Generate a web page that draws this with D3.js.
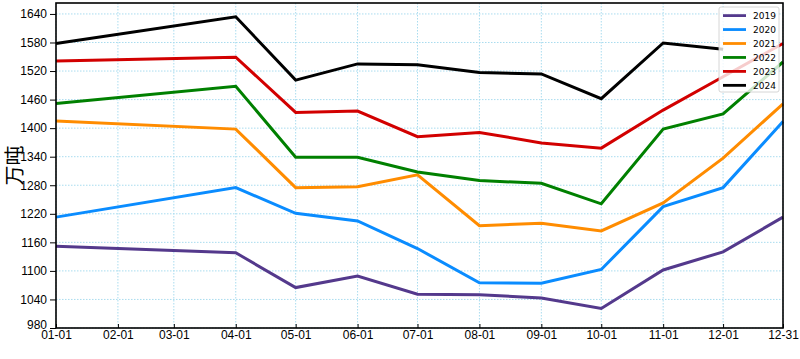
<!DOCTYPE html>
<html><head><meta charset="utf-8">
<script src="https://cdn.jsdelivr.net/npm/d3@7"></script>
<style>body{margin:0;background:#fff}svg{display:block}</style>
</head><body>
<script>
const dates = ["01-01","04-01","05-01","06-01","07-01","08-01","09-01","10-01","11-01","12-01","12-31"];
const years = ["2019","2020","2021","2022","2023","2024"];
const s2019 = [1152,1138,1065,1089,1051,1050,1043,1021,1102,1140,1213];
const s2020 = [1213,1275,1221,1205,1147,1075,1074,1103,1235,1275,1414];
const s2021 = [1415,1398,1275,1277,1302,1195,1200,1184,1243,1337,1451];
const s2022 = [1452,1488,1339,1339,1308,1290,1284,1241,1398,1430,1539];
const s2023 = [1541,1549,1433,1436,1382,1391,1369,1358,1438,1508,1578];
const s2024 = [1578,1634,1501,1535,1533,1517,1514,1462,1579,1566];
const colors = ["#54398c","#0a8cff","#ff8c00","#008000","#d20000","#000000"];
const xTickLabels = ["01-01","02-01","03-01","04-01","05-01","06-01","07-01","08-01","09-01","10-01","11-01","12-01","12-31"];
const yTicks = [980,1040,1100,1160,1220,1280,1340,1400,1460,1520,1580,1640];
const yLabel = "万吨";

const W=800,H=359, L=56,R=783,T=3,B=328;
const parse = s => new Date("2023-"+s+"T00:00:00");
const x = d3.scaleTime().domain([parse("01-01"),parse("12-31")]).range([L,R]);
const y = d3.scaleLinear().domain([980,1663]).range([B,T]);

const svg = d3.select("body").append("svg").attr("width",W).attr("height",H);
const font = "'Liberation Sans', Arial, sans-serif";

// grid
const g = svg.append("g");
g.selectAll(".gx").data(xTickLabels).join("line")
  .attr("x1",d=>x(parse(d))).attr("x2",d=>x(parse(d))).attr("y1",T).attr("y2",B)
  .attr("stroke","#a9dcef").attr("stroke-width",1).attr("stroke-dasharray","1.5,1.5");
g.selectAll(".gy").data(yTicks).join("line")
  .attr("x1",L).attr("x2",R).attr("y1",d=>y(d)).attr("y2",d=>y(d))
  .attr("stroke","#a9dcef").attr("stroke-width",1).attr("stroke-dasharray","1.5,1.5");

// lines
const series = [s2019,s2020,s2021,s2022,s2023,s2024];
const line = d3.line().x((d,i)=>x(parse(dates[i]))).y(d=>y(d));
series.forEach((s,k)=>{
  svg.append("path").datum(s).attr("d",line).attr("fill","none")
    .attr("stroke",colors[k]).attr("stroke-width",3).attr("stroke-linejoin","miter");
});

// axes
const yAxis = d3.axisLeft(y).tickValues(yTicks).tickSize(6).tickPadding(3).tickFormat(d3.format("d"));
const ya = svg.append("g").attr("transform",`translate(${L},0)`).call(yAxis);
ya.select(".domain").remove();
ya.selectAll("text").attr("font-family",font).attr("font-size",12).attr("fill","#000");
ya.selectAll(".tick").filter(d=>d===980).select("text").attr("dy","0.05em");
ya.selectAll("line").attr("stroke","#000");

const xAxis = d3.axisBottom(x).tickValues(xTickLabels.map(parse)).tickSize(-4).tickPadding(6)
  .tickFormat((d,i)=>xTickLabels[i]);
const xa = svg.append("g").attr("transform",`translate(0,${B})`).call(xAxis);
xa.select(".domain").remove();
xa.selectAll("text").attr("font-family",font).attr("font-size",12).attr("fill","#000").attr("dy","0.45em");
xa.selectAll("line").attr("stroke","#000");

// frame
svg.append("rect").attr("x",L).attr("y",T).attr("width",R-L).attr("height",B-T)
  .attr("fill","none").attr("stroke","#000").attr("stroke-width",1.6);

// y label
svg.append("text").attr("transform",`translate(13,${(T+B)/2}) rotate(-90)`)
  .attr("text-anchor","middle").attr("dominant-baseline","central")
  .attr("font-family","'Noto Sans CJK SC', sans-serif")
  .attr("font-size",20).text(yLabel);

// legend
const lg = svg.append("g");
lg.append("rect").attr("x",719).attr("y",7).attr("width",60).attr("height",85).attr("rx",2)
  .attr("fill","#fff").attr("fill-opacity",0.8).attr("stroke","#cccccc").attr("stroke-width",0.8);
years.forEach((yr,i)=>{
  const yy = 15.6 + i*13.95;
  lg.append("line").attr("x1",723).attr("x2",746).attr("y1",yy).attr("y2",yy)
    .attr("stroke",colors[i]).attr("stroke-width",2.8);
  lg.append("text").attr("x",753).attr("y",yy).attr("dy","0.35em")
    .attr("font-family","'DejaVu Sans', sans-serif").attr("font-size",9).attr("fill","#000").text(yr);
});
</script>
</body></html>
